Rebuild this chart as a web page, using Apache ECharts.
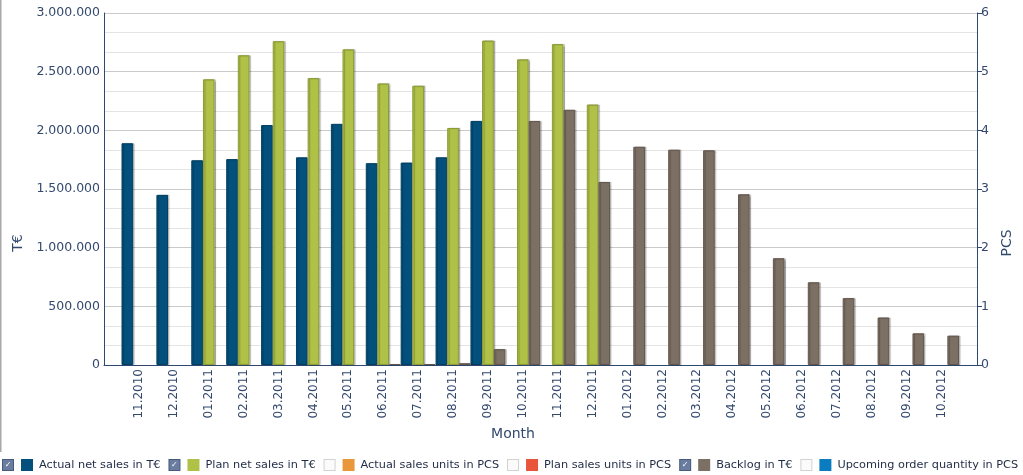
<!DOCTYPE html>
<html>
<head>
<meta charset="utf-8">
<script src="https://cdn.jsdelivr.net/npm/echarts@6/dist/echarts.min.js"></script>
<style>
html,body{margin:0;padding:0;background:#fff;}
#mainarea{width:1023px;height:475px;}
</style>
</head>
<body>
<div id="mainarea"></div>
<script>
var months=['11.2010','12.2010','01.2011','02.2011','03.2011','04.2011','05.2011','06.2011','07.2011','08.2011','09.2011','10.2011',
  '11.2011','12.2011','01.2012','02.2012','03.2012','04.2012','05.2012','06.2012','07.2012','08.2012','09.2012','10.2012'];
var actualNet=[1890000,1450000,1745000,1755000,2045000,1770000,2055000,1720000,1725000,1770000,2080000,null,
  null,null,null,null,null,null,null,null,null,null,null,null];
var planNet=[null,null,2435000,2640000,2760000,2445000,2690000,2400000,2380000,2020000,2765000,2605000,
  2735000,2220000,null,null,null,null,null,null,null,null,null,null];
var backlog=[null,null,null,null,null,null,null,8000,8000,15000,135000,2080000,
  2175000,1560000,1860000,1835000,1830000,1455000,910000,705000,570000,405000,270000,250000];
var seriesNames=['Actual net sales in T€','Plan net sales in T€','Actual sales units in PCS','Plan sales units in PCS','Backlog in T€','Upcoming order quantity in PCS'];
var seriesColors=['#03507c','#afc146','#e8973a','#e9553b','#7c6f63','#0a7cbf'];
var checked=[true,true,false,false,true,false];

var myChart=echarts.init(document.getElementById('mainarea'));
var axisColor='#2f4870';
var labelColor='#34496e';
var font='DejaVu Sans';

function deNum(v){
  return String(v).replace(/\B(?=(\d{3})+(?!\d))/g,'.');
}

var rich={
  cb:{width:10,height:10,backgroundColor:'#6a7da0',borderColor:'#485b7e',borderWidth:1,color:'#fff',fontSize:8,align:'center',verticalAlign:'middle',lineHeight:12},
  cu:{width:10,height:10,backgroundColor:'#fbfbfb',borderColor:'#d2d2d2',borderWidth:1,verticalAlign:'middle'},
  g9:{width:8},
  g6:{width:6}
};
for(var i=0;i<seriesColors.length;i++){
  rich['c'+i]={width:12,height:12,backgroundColor:seriesColors[i],verticalAlign:'middle'};
}

function barStyle(c,b){
  return {color:c,borderColor:b,borderWidth:1,shadowColor:'rgba(0,0,0,0.22)',shadowOffsetX:1.5,shadowBlur:1};
}

var option={
  animation:false,
  backgroundColor:'#fff',
  textStyle:{fontFamily:font},
  grid:[
    {left:104,right:46,top:13,bottom:110},
    {left:121.5,right:64,top:13,bottom:110}
  ],
  legend:{
    left:-8,
    top:454,
    width:1060,
    itemWidth:0,
    itemHeight:0,
    itemGap:3,
    data:seriesNames,
    textStyle:{fontFamily:font,fontSize:11.3,color:'#1f2b45',rich:rich},
    formatter:function(name){
      var k=seriesNames.indexOf(name);
      return (checked[k]?'{cb|✓}':'{cu|}')+'{g9|}{c'+k+'|}{g6|}'+name;
    }
  },
  //outer frame: axes and grid lines
  xAxis:[
    {gridIndex:0,type:'value',min:0,max:1,
      axisLine:{show:true,onZero:false,lineStyle:{color:axisColor}},
      axisTick:{show:false},axisLabel:{show:false},splitLine:{show:false}},
    {gridIndex:1,type:'category',data:months,
      axisLine:{show:false},axisTick:{show:false},
      axisLabel:{rotate:90,margin:4,interval:0,color:labelColor,fontSize:12,fontFamily:font}}
  ],
  yAxis:[
    {gridIndex:0,type:'value',min:0,max:3000000,interval:500000,position:'left',
      axisLine:{show:true,lineStyle:{color:axisColor}},
      axisTick:{show:false},
      axisLabel:{color:labelColor,fontSize:12.5,margin:4,fontFamily:font,formatter:deNum},
      splitLine:{lineStyle:{color:'#cacaca'}},
      minorTick:{show:false,splitNumber:3},
      minorSplitLine:{show:true,lineStyle:{color:'#e4e4e4'}}},
    {gridIndex:0,type:'value',min:0,max:6,interval:1,position:'right',
      axisLine:{show:true,lineStyle:{color:axisColor}},
      axisTick:{show:true,length:5,lineStyle:{color:axisColor}},
      axisLabel:{color:labelColor,fontSize:12.5,margin:4,fontFamily:font},
      splitLine:{show:false}},
    {gridIndex:1,type:'value',min:0,max:3000000,show:false,splitLine:{show:false}}
  ],
  series:[
    {name:seriesNames[0],type:'bar',xAxisIndex:1,yAxisIndex:2,data:actualNet,
      barGap:'0%',barCategoryGap:'0%',itemStyle:barStyle(seriesColors[0],'#024063')},
    {name:seriesNames[1],type:'bar',xAxisIndex:1,yAxisIndex:2,data:planNet,
      itemStyle:barStyle(seriesColors[1],'#8d9b36')},
    {name:seriesNames[2],type:'line',xAxisIndex:1,yAxisIndex:2,data:[],itemStyle:{color:seriesColors[2]}},
    {name:seriesNames[3],type:'line',xAxisIndex:1,yAxisIndex:2,data:[],itemStyle:{color:seriesColors[3]}},
    {name:seriesNames[4],type:'bar',xAxisIndex:1,yAxisIndex:2,data:backlog,
      itemStyle:barStyle(seriesColors[4],'#63574d')},
    {name:seriesNames[5],type:'line',xAxisIndex:1,yAxisIndex:2,data:[],itemStyle:{color:seriesColors[5]}}
  ],
  graphic:[
    {type:'line',shape:{x1:0.5,y1:0,x2:0.5,y2:452},style:{stroke:'#a8a8a8',lineWidth:2}},
    {type:'text',x:18,y:243,rotation:Math.PI/2,
      style:{text:'T€',fill:labelColor,font:'14px "DejaVu Sans"',textAlign:'center',textVerticalAlign:'middle'}},
    {type:'text',x:1007,y:243,rotation:Math.PI/2,
      style:{text:'PCS',fill:labelColor,font:'14px "DejaVu Sans"',textAlign:'center',textVerticalAlign:'middle'}},
    {type:'text',x:513,y:434,
      style:{text:'Month',fill:labelColor,font:'14px "DejaVu Sans"',textAlign:'center',textVerticalAlign:'middle'}}
  ]
};

myChart.setOption(option);
</script>
</body>
</html>
